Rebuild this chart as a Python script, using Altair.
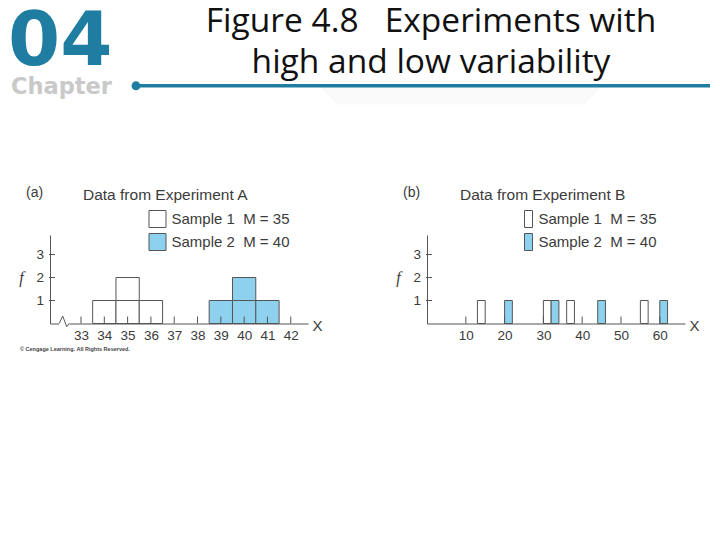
import altair as alt
import pandas as pd

# ---------------- data ----------------
SAMPLES = ["Sample 1", "Sample 2"]
MEANS = [35, 40]
SCORES_A_S1 = [34, 35, 35, 36]
SCORES_A_S2 = [39, 40, 40, 41]
SCORES_B_S1 = [14, 31, 37, 56]
SCORES_B_S2 = [21, 33, 45, 61]
TICKS_A = [33, 34, 35, 36, 37, 38, 39, 40, 41, 42]
TICKS_B = [10, 20, 30, 40, 50, 60]
Y_TICKS = [1, 2, 3]
TITLE_LINES = ["Figure 4.8\u00a0\u00a0 Experiments with", "high and low variability"]
PANEL_TAGS = ["(a)", "(b)"]
PANEL_TITLES = ["Data from Experiment A", "Data from Experiment B"]
COPYRIGHT = "\u00a9 Cengage Learning. All Rights Reserved."
CHAPTER_NUM = "04"
CHAPTER_WORD = "Chapter"

# ---------------- style ----------------
TEAL = "#1e7da0"
LOGO_GRAY = "#c9c9c9"
TXT = "#3b3b3b"
AX = "#555555"
FILLS = ["#ffffff", "#8ed1ef"]
FONT = "Liberation Sans"
W, H = 258, 88.5
Y_DOMAIN = [0, 3.85]
PX_PER_F = H / Y_DOMAIN[1]

legend_text = {s: f"{s}\u00a0\u00a0M = {m}" for s, m in zip(SAMPLES, MEANS)}
label_expr = " : ".join(
    [f"datum.label == '{k}' ? '{v}'" for k, v in legend_text.items()]) + " : datum.label"

one = alt.Data(values=[{}])


def txt(text, x, y, size, font=FONT, color=TXT, align="left", weight="normal", style="normal"):
    return alt.Chart(one).mark_text(
        align=align, baseline="alphabetic", font=font, fontSize=size,
        color=color, fontWeight=weight, fontStyle=style,
    ).encode(x=alt.value(x), y=alt.value(y), text=alt.value(text))


def yaxis():
    return alt.Axis(
        values=Y_TICKS, ticks=False, tickSize=0, grid=False, format="d",
        domainColor=AX, domainWidth=1, labelPadding=6.5,
        labelFont=FONT, labelFontSize=13.5, labelColor=TXT,
        title="f", titleAngle=0, titleX=-29, titleY=H - 2 * PX_PER_F,
        titleAlign="center", titleBaseline="middle",
        titleFont="Liberation Serif", titleFontStyle="italic",
        titleFontWeight="normal", titleFontSize=16, titleColor=TXT,
    )


def xaxis(values):
    return alt.Axis(
        values=values, ticks=False, tickSize=0, grid=False, format="d",
        domainColor=AX, domainWidth=1, labelPadding=4.5,
        labelFont=FONT, labelFontSize=13.5, labelColor=TXT,
        labelFlush=False, labelOverlap=False,
        title="X", titleX=W + 4, titleY=1.5, titleAlign="left",
        titleBaseline="middle", titleFont=FONT, titleFontSize=15,
        titleFontWeight="normal", titleColor=TXT,
    )


def panel(s1, s2, half, xdomain, ticks, tag, title, legend):
    df = pd.DataFrame({
        "sample": [SAMPLES[0]] * len(s1) + [SAMPLES[1]] * len(s2),
        "score": s1 + s2,
    })
    xs = alt.Scale(domain=xdomain, nice=False, zero=False)
    ys = alt.Scale(domain=Y_DOMAIN, nice=False)
    xa, ya = xaxis(ticks), yaxis()

    bars = alt.Chart(df).transform_window(
        lvl="row_number()", groupby=["sample", "score"]
    ).transform_calculate(
        x0=f"datum.score - {half}", x1=f"datum.score + {half}", y0="datum.lvl - 1"
    ).mark_rect(stroke=AX, strokeWidth=1).encode(
        x=alt.X("x0:Q", scale=xs, axis=xa),
        x2="x1:Q",
        y=alt.Y("y0:Q", scale=ys, axis=ya),
        y2="lvl:Q",
        fill=alt.Fill("sample:N", scale=alt.Scale(domain=SAMPLES, range=FILLS), legend=legend),
    )
    xt = alt.Chart(pd.DataFrame({"t": ticks})).mark_rule(color=AX, strokeWidth=1).encode(
        x=alt.X("t:Q", scale=xs, axis=xa), y=alt.value(H), y2=alt.value(H - 7))
    yt = alt.Chart(pd.DataFrame({"v": Y_TICKS})).mark_rule(color=AX, strokeWidth=1).encode(
        y=alt.Y("v:Q", scale=ys, axis=ya), x=alt.value(-1), x2=alt.value(5))
    layers = [bars, xt, yt,
              txt(tag, -24, -38.5, 14),
              txt(title, 33, -35.5, 15.5)]
    return layers


def legend(x, shape, offset):
    return alt.Legend(
        orient="none", legendX=x, legendY=-25, title=None,
        symbolType=shape, symbolSize=289, symbolStrokeColor=AX, symbolStrokeWidth=1,
        symbolOpacity=1, labelFont=FONT, labelFontSize=15, labelColor=TXT,
        labelOffset=offset, rowPadding=1, labelExpr=label_expr, labelLimit=300,
    )


layers_a = panel(SCORES_A_S1, SCORES_A_S2, 0.5, [31.67, 42.74], TICKS_A,
                 PANEL_TAGS[0], PANEL_TITLES[0], legend(98.5, "square", 5))
layers_b = panel(SCORES_B_S1, SCORES_B_S2, 1.0, [0, 66.5], TICKS_B,
                 PANEL_TAGS[1], PANEL_TITLES[1],
                 legend(92.5, "M-0.47,-1H0.47V1H-0.47Z", 1))

# axis break on panel A
mask = alt.Chart(one).mark_point(shape="M-1,-0.35H1V0.35H-1Z", filled=True, color="white",
                                 opacity=1, size=110).encode(x=alt.value(14.3), y=alt.value(H))
zig = alt.Chart(one).mark_point(shape="M-0.91,0.33L-0.29,-1L0.44,0.95L0.91,0.33", filled=False,
                                color=AX, strokeWidth=1, opacity=1, size=121).encode(
    x=alt.value(14.3), y=alt.value(H - 2))

# header (positions relative to panel A plot origin)
header = [
    alt.Chart(one).mark_point(shape="M-1,-0.06H1L0.88,0.06H-0.88Z", filled=True,
                              color="#f9f9f9", opacity=1, size=280 ** 2).encode(
        x=alt.value(411), y=alt.value(-139)),
    txt(CHAPTER_NUM, -42, -170, 75, font="DejaVu Sans", color=TEAL, weight="bold"),
    txt(CHAPTER_WORD, -39, -141.5, 22.5, font="DejaVu Sans", color=LOGO_GRAY, weight="bold"),
    txt(TITLE_LINES[0], 381, -203, 33.5, font="Open Sans", color="#111111", align="center"),
    txt(TITLE_LINES[1], 381, -162, 33.5, font="Open Sans", color="#111111", align="center"),
    alt.Chart(one).mark_rule(color=TEAL, strokeWidth=3.5).encode(
        x=alt.value(86), x2=alt.value(660), y=alt.value(-149.2)),
    alt.Chart(one).mark_circle(color=TEAL, opacity=1, size=80).encode(
        x=alt.value(86), y=alt.value(-149.2)),
    txt(COPYRIGHT, -30, 116, 5.5, weight="bold", color="#444444"),
]

panel_a = alt.layer(*layers_a, mask, zig, *header).properties(width=W, height=H)
panel_b = alt.layer(*layers_b).properties(width=W, height=H)

chart = alt.hconcat(panel_a, panel_b, spacing=119, bounds="flush").resolve_scale(
    x="independent", y="independent", fill="independent"
).resolve_legend(fill="independent").properties(
    padding={"top": -3, "left": 0, "right": 0, "bottom": 0}, background="white"
).configure_view(stroke=None)

chart.save("out.html", embed_options={"renderer": "svg", "actions": False})
